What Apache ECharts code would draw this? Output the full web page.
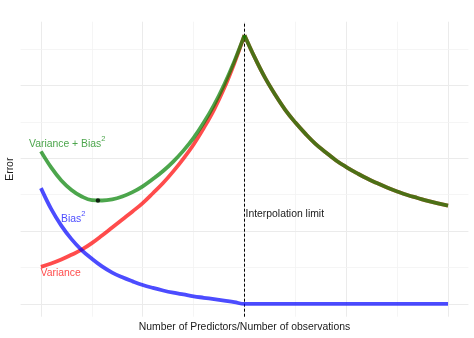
<!DOCTYPE html>
<html>
<head>
<meta charset="utf-8">
<script src="https://cdn.jsdelivr.net/npm/echarts@6/dist/echarts.min.js"></script>
<style>
  html, body { margin: 0; padding: 0; background: #fff; }
  #main { width: 474px; height: 338px; }
</style>
</head>
<body>
<div id="main"></div>
<script>
// x = number of predictors / number of observations (1 = interpolation limit)
var xs = [0, 0.05, 0.1, 0.15, 0.2, 0.25, 0.3, 0.35, 0.4, 0.45, 0.5,
  0.55, 0.6, 0.65, 0.7, 0.75, 0.8, 0.85, 0.9, 0.95, 1,
  1.05, 1.1, 1.15, 1.2, 1.25, 1.3, 1.35, 1.4, 1.45, 1.5,
  1.55, 1.6, 1.65, 1.7, 1.75, 1.8, 1.85, 1.9, 1.95, 2];

var bias = [3.18, 2.61, 2.15, 1.78, 1.48, 1.24, 1.03, 0.86, 0.73, 0.62, 0.52,
  0.44, 0.37, 0.31, 0.26, 0.21, 0.17, 0.13, 0.09, 0.05, 0,
  0, 0, 0, 0, 0, 0, 0, 0, 0, 0,
  0, 0, 0, 0, 0, 0, 0, 0, 0, 0];

var variance = [1.02, 1.11, 1.22, 1.35, 1.49, 1.67, 1.88, 2.10, 2.32, 2.54, 2.77,
  3.04, 3.32, 3.64, 3.99, 4.38, 4.83, 5.33, 5.92, 6.61, 7.38,
  6.77, 6.22, 5.75, 5.33, 4.98, 4.67, 4.39, 4.16, 3.94, 3.76,
  3.60, 3.45, 3.32, 3.20, 3.09, 2.99, 2.91, 2.83, 2.76, 2.70];

var total = [4.19, 3.75, 3.39, 3.13, 2.95, 2.85, 2.84, 2.87, 2.95, 3.07, 3.23,
  3.43, 3.65, 3.91, 4.21, 4.56, 4.98, 5.46, 6.02, 6.66, 7.38,
  6.77, 6.22, 5.75, 5.33, 4.98, 4.67, 4.39, 4.16, 3.94, 3.76,
  3.60, 3.45, 3.32, 3.20, 3.09, 2.99, 2.91, 2.83, 2.76, 2.70];

var minPoint = [0.28, 2.84];
var limitX = 1;

// grid lines (major / minor)
var majorX = [0, 0.5, 1, 1.5, 2];
var minorX = [0.25, 0.75, 1.25, 1.75];
var majorY = [0, 2, 4, 6];
var minorY = [1, 3, 5, 7];

// split each curve at the interpolation limit so the peak stays sharp
var peakIdx = xs.indexOf(limitX);

function pairs(a, b) {
  return a.map(function (v, i) { return [v, b[i]]; });
}
function leftPart(a, b) { return pairs(a, b).slice(0, peakIdx + 1); }
function rightPart(a, b) { return pairs(a, b).slice(peakIdx); }

var chart = echarts.init(document.getElementById('main'), null, { renderer: 'canvas' });

var font = "'Liberation Sans', Arial, sans-serif";
var majorStyle = { color: '#ebebeb', width: 1, type: 'solid' };
var minorStyle = { color: '#f3f3f3', width: 0.8, type: 'solid' };

var gridLines = [];
majorX.forEach(function (v) { gridLines.push({ xAxis: v, lineStyle: majorStyle }); });
minorX.forEach(function (v) { gridLines.push({ xAxis: v, lineStyle: minorStyle }); });
majorY.forEach(function (v) { gridLines.push({ yAxis: v, lineStyle: majorStyle }); });
minorY.forEach(function (v) { gridLines.push({ yAxis: v, lineStyle: minorStyle }); });

function curve(data, color, z) {
  return {
    type: 'line',
    data: data,
    z: z,
    smooth: 0.4,
    showSymbol: false,
    silent: true,
    lineStyle: { color: color, width: 3.8, opacity: 0.7, join: 'round', cap: 'butt' }
  };
}

var option = {
  animation: false,
  backgroundColor: '#ffffff',
  grid: { left: 20.6, right: 5.6, top: 21.7, bottom: 21.3, outerBoundsMode: 'none', containLabel: false },
  xAxis: {
    type: 'value',
    min: -0.1,
    max: 2.1,
    name: 'Number of Predictors/Number of observations',
    nameLocation: 'middle',
    nameGap: 5,
    nameTextStyle: { color: '#1a1a1a', fontSize: 10.4, fontFamily: font },
    axisLine: { show: false },
    axisTick: { show: false },
    axisLabel: { show: false },
    splitLine: { show: false }
  },
  yAxis: {
    type: 'value',
    min: -0.35,
    max: 7.75,
    name: 'Error',
    nameLocation: 'middle',
    nameGap: 5,
    nameRotate: 90,
    nameTextStyle: { color: '#1a1a1a', fontSize: 10.4, fontFamily: font },
    axisLine: { show: false },
    axisTick: { show: false },
    axisLabel: { show: false },
    splitLine: { show: false }
  },
  series: [
    {
      // background grid + interpolation limit
      type: 'line',
      data: [],
      z: 1,
      silent: true,
      markLine: {
        silent: true,
        z: 1,
        symbol: 'none',
        label: { show: false },
        emphasis: { disabled: true },
        data: gridLines.concat([{
          xAxis: limitX,
          lineStyle: { color: '#000', width: 1, type: [3, 2] }
        }])
      }
    },
    curve(leftPart(xs, variance), '#ff0000', 2),
    curve(rightPart(xs, variance), '#ff0000', 2),
    curve(pairs(xs, bias), '#0000ff', 3),
    curve(leftPart(xs, total), '#008000', 4),
    curve(rightPart(xs, total), '#008000', 4),
    {
      type: 'scatter',
      data: [minPoint],
      z: 5,
      silent: true,
      symbolSize: 4.5,
      itemStyle: { color: '#000' }
    }
  ],
  graphic: [
    {
      type: 'text', left: 29, top: 135, z: 10,
      style: {
        text: 'Variance + Bias{sup|2}',
        fill: '#4da64d', font: '10.4px ' + font, lineHeight: 18,
        rich: { sup: { fontSize: 7.5, lineHeight: 8, verticalAlign: 'top', fill: '#4da64d' } }
      }
    },
    {
      type: 'text', left: 61, top: 210, z: 10,
      style: {
        text: 'Bias{sup|2}',
        fill: '#4d4dff', font: '10.4px ' + font, lineHeight: 18,
        rich: { sup: { fontSize: 7.5, lineHeight: 8, verticalAlign: 'top', fill: '#4d4dff' } }
      }
    },
    {
      type: 'text', left: 40.5, top: 268.5, z: 10,
      style: { text: 'Variance', fill: '#ff4d4d', font: '10.4px ' + font }
    },
    {
      type: 'text', left: 245.5, top: 209.5, z: 10,
      style: { text: 'Interpolation limit', fill: '#1a1a1a', font: '10.4px ' + font }
    }
  ]
};

chart.setOption(option);
</script>
</body>
</html>
